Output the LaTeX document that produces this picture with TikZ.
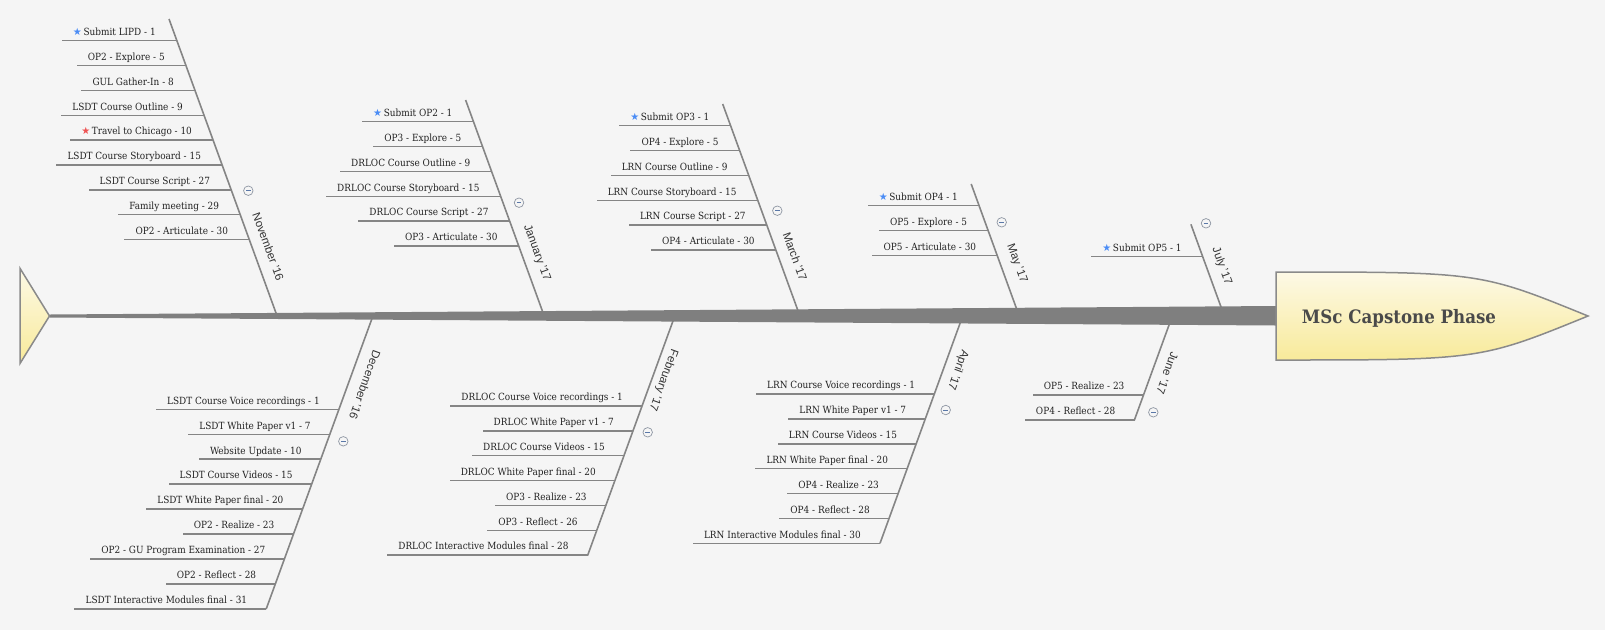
\documentclass[tikz,border=0pt]{standalone}
\usepackage{fontspec}
\usepackage{tikz}
\usetikzlibrary{calc}

\newfontfamily\lblfont{DejaVu Serif Condensed}
\newfontfamily\monthfont{Liberation Sans}
\newfontfamily\symfont{DejaVu Sans}

\definecolor{bgcol}{HTML}{F5F5F5}
\definecolor{bonegray}{HTML}{858585}
\definecolor{spinegray}{HTML}{7F7F7F}
\definecolor{edgegray}{HTML}{8A8A8A}
\definecolor{headtop}{HTML}{FDF9E6}
\definecolor{headbot}{HTML}{F8EA9A}
\definecolor{labeltext}{HTML}{222222}
\definecolor{monthtext}{HTML}{333333}
\definecolor{titlegray}{HTML}{4A4A4A}
\definecolor{starblue}{HTML}{4A8CF5}
\definecolor{starred}{HTML}{EE5252}
\definecolor{foldgray}{HTML}{8E96A3}
\definecolor{foldblue}{HTML}{5A78A8}

\newcommand\starb{{\symfont\fontsize{10}{10}\selectfont\color{starblue}★}\,}
\newcommand\starr{{\symfont\fontsize{10}{10}\selectfont\color{starred}★}\,}

\begin{document}
\begin{tikzpicture}[x=1pt,y=-1pt,
    bone/.style={draw=bonegray, line width=1.6pt},
    twig/.style={draw=bonegray, line width=1.5pt},
    lbl/.style={font=\lblfont\fontsize{9.9}{11}\selectfont, text=labeltext,
        inner xsep=11pt, inner ysep=5pt, text height=7.5pt, text depth=0pt,
        anchor=south east},
    month/.style={font=\monthfont\fontsize{11.5}{12}\selectfont, text=monthtext, inner sep=0pt},
    fold/.style={circle, draw=foldgray, line width=0.7pt, minimum size=9.5pt, inner sep=0pt,
        path picture={\draw[foldblue, line width=0.6pt]
            ([xshift=-2.3pt]path picture bounding box.center) -- ([xshift=2.3pt]path picture bounding box.center);}},
    fishbody/.style={draw=edgegray, line width=1.5pt, top color=headtop, bottom color=headbot}]

    \fill[bgcol] (0,0) rectangle (1605,630);
    \useasboundingbox (0,0) rectangle (1605,630);

    % upper bones
    \draw[bone] (169,19) -- (277.1,316);
    \draw[bone] (465.6,100) -- (544.2,316);
    \draw[bone] (722.7,104) -- (799.9,316);
    \draw[bone] (971.2,184) -- (1019.2,316);
    \draw[bone] (1190.9,224.3) -- (1224.3,316);
    % lower bones
    \draw[bone] (372.9,316) -- (266.2,609);
    \draw[bone] (674.8,316) -- (587.6,555.5);
    \draw[bone] (962.7,316) -- (880,543.3);
    \draw[bone] (1172.3,316) -- (1134.4,420);

    % November
    \foreach \txt [count=\i] in {\starb Submit LIPD - 1, OP2 - Explore - 5, GUL Gather-In - 8,
        LSDT Course Outline - 9, \starr Travel to Chicago - 10, LSDT Course Storyboard - 15,
        LSDT Course Script - 27, Family meeting - 29, OP2 - Articulate - 30} {
        \pgfmathsetmacro\yy{40.7+(\i-1)*24.85}
        \coordinate (nov\i) at ({169+(\yy-19)*0.364},\yy);
        \node[lbl] (novt\i) at ([xshift=-10pt]nov\i) {\txt};
        \draw[twig] (nov\i) -- (novt\i.south west);
    }
    % January
    \foreach \txt [count=\i] in {\starb Submit OP2 - 1, OP3 - Explore - 5, DRLOC Course Outline - 9,
        DRLOC Course Storyboard - 15, DRLOC Course Script - 27, OP3 - Articulate - 30} {
        \pgfmathsetmacro\yy{121.7+(\i-1)*24.85}
        \coordinate (jan\i) at ({465.6+(\yy-100)*0.364},\yy);
        \node[lbl] (jant\i) at ([xshift=-10pt]jan\i) {\txt};
        \draw[twig] (jan\i) -- (jant\i.south west);
    }
    % March
    \foreach \txt [count=\i] in {\starb Submit OP3 - 1, OP4 - Explore - 5, LRN Course Outline - 9,
        LRN Course Storyboard - 15, LRN Course Script - 27, OP4 - Articulate - 30} {
        \pgfmathsetmacro\yy{125.7+(\i-1)*24.85}
        \coordinate (mar\i) at ({722.7+(\yy-104)*0.364},\yy);
        \node[lbl] (mart\i) at ([xshift=-10pt]mar\i) {\txt};
        \draw[twig] (mar\i) -- (mart\i.south west);
    }
    % May
    \foreach \txt [count=\i] in {\starb Submit OP4 - 1, OP5 - Explore - 5, OP5 - Articulate - 30} {
        \pgfmathsetmacro\yy{205.7+(\i-1)*25}
        \coordinate (may\i) at ({971.2+(\yy-184)*0.364},\yy);
        \node[lbl] (mayt\i) at ([xshift=-10pt]may\i) {\txt};
        \draw[twig] (may\i) -- (mayt\i.south west);
    }
    % July
    \coordinate (jul1) at ({1190.9+(256.7-224.3)*0.364},256.7);
    \node[lbl] (jult1) at ([xshift=-10pt]jul1) {\starb Submit OP5 - 1};
    \draw[twig] (jul1) -- (jult1.south west);

    % December
    \foreach \txt [count=\i] in {LSDT Course Voice recordings - 1, LSDT White Paper v1 - 7,
        Website Update - 10, LSDT Course Videos - 15, LSDT White Paper final - 20,
        OP2 - Realize - 23, OP2 - GU Program Examination - 27, OP2 - Reflect - 28,
        LSDT Interactive Modules final - 31} {
        \pgfmathsetmacro\yy{409.3+(\i-1)*24.95}
        \coordinate (dec\i) at ({372.9-(\yy-316)*0.364},\yy);
        \node[lbl] (dect\i) at ([xshift=-8pt]dec\i) {\txt};
        \draw[twig] (dec\i) -- (dect\i.south west);
    }
    % February
    \foreach \txt [count=\i] in {DRLOC Course Voice recordings - 1, DRLOC White Paper v1 - 7,
        DRLOC Course Videos - 15, DRLOC White Paper final - 20, OP3 - Realize - 23,
        OP3 - Reflect - 26, DRLOC Interactive Modules final - 28} {
        \pgfmathsetmacro\yy{406+(\i-1)*24.85}
        \coordinate (feb\i) at ({674.8-(\yy-316)*0.364},\yy);
        \node[lbl] (febt\i) at ([xshift=-8pt]feb\i) {\txt};
        \draw[twig] (feb\i) -- (febt\i.south west);
    }
    % April
    \foreach \txt [count=\i] in {LRN Course Voice recordings - 1, LRN White Paper v1 - 7,
        LRN Course Videos - 15, LRN White Paper final - 20, OP4 - Realize - 23,
        OP4 - Reflect - 28, LRN Interactive Modules final - 30} {
        \pgfmathsetmacro\yy{394+(\i-1)*24.9}
        \coordinate (apr\i) at ({962.7-(\yy-316)*0.364},\yy);
        \node[lbl] (aprt\i) at ([xshift=-8pt]apr\i) {\txt};
        \draw[twig] (apr\i) -- (aprt\i.south west);
    }
    % June
    \foreach \txt [count=\i] in {OP5 - Realize - 23, OP4 - Reflect - 28} {
        \pgfmathsetmacro\yy{395+(\i-1)*24.8}
        \coordinate (jun\i) at ({1172.3-(\yy-316)*0.364},\yy);
        \node[lbl] (junt\i) at ([xshift=-8pt]jun\i) {\txt};
        \draw[twig] (jun\i) -- (junt\i.south west);
    }

    % month labels
    \node[month, rotate=-70] (nov) at (268.3,246.7) {November ’16};
    \node[month, rotate=-70] (jan) at (536.7,253) {January ’17};
    \node[month, rotate=-70] (mar) at (795,256.7) {March ’17};
    \node[month, rotate=-70] (may) at (1016.7,263.3) {May ’17};
    \node[month, rotate=-70] (jul) at (1221.7,266) {July ’17};
    \node[month, rotate=-110] (dec) at (365,385) {December ’16};
    \node[month, rotate=-110] (feb) at (663.3,380) {February ’17};
    \node[month, rotate=-110] (apr) at (957.7,370) {April ’17};
    \node[month, rotate=-110] (jun) at (1167.3,373.3) {June ’17};

    % fold markers
    \node[fold] (novf) at (248.3,190.7) {};
    \node[fold] (janf) at (519,202.7) {};
    \node[fold] (marf) at (777.3,210.7) {};
    \node[fold] (mayf) at (1001.7,222.3) {};
    \node[fold] (julf) at (1206,223.3) {};
    \node[fold] (decf) at (343.3,441.3) {};
    \node[fold] (febf) at (647.7,432.3) {};
    \node[fold] (aprf) at (945.7,410) {};
    \node[fold] (junf) at (1153.3,412.3) {};

    % spine, tail and head
    \coordinate (tailtip) at (49.5,316);
    \coordinate (headback) at (1276,316);
    \fill[spinegray] ($(tailtip)+(0,-1.5)$) -- ($(headback)+(0,-10)$)
        -- ($(headback)+(0,9.5)$) -- ($(tailtip)+(0,1.5)$) -- cycle;
    \draw[fishbody] (20,268.3) -- (tailtip) -- (20,363.5) -- cycle;
    \draw[fishbody] (1276,272) .. controls (1480,272) .. (1588,316)
        .. controls (1480,360) .. (1276,360) -- cycle;
    \node[font=\lblfont\bfseries\fontsize{18.5}{22}\selectfont, text=titlegray] (head) at (1399,318) {MSc Capstone Phase};
\end{tikzpicture}
\end{document}
